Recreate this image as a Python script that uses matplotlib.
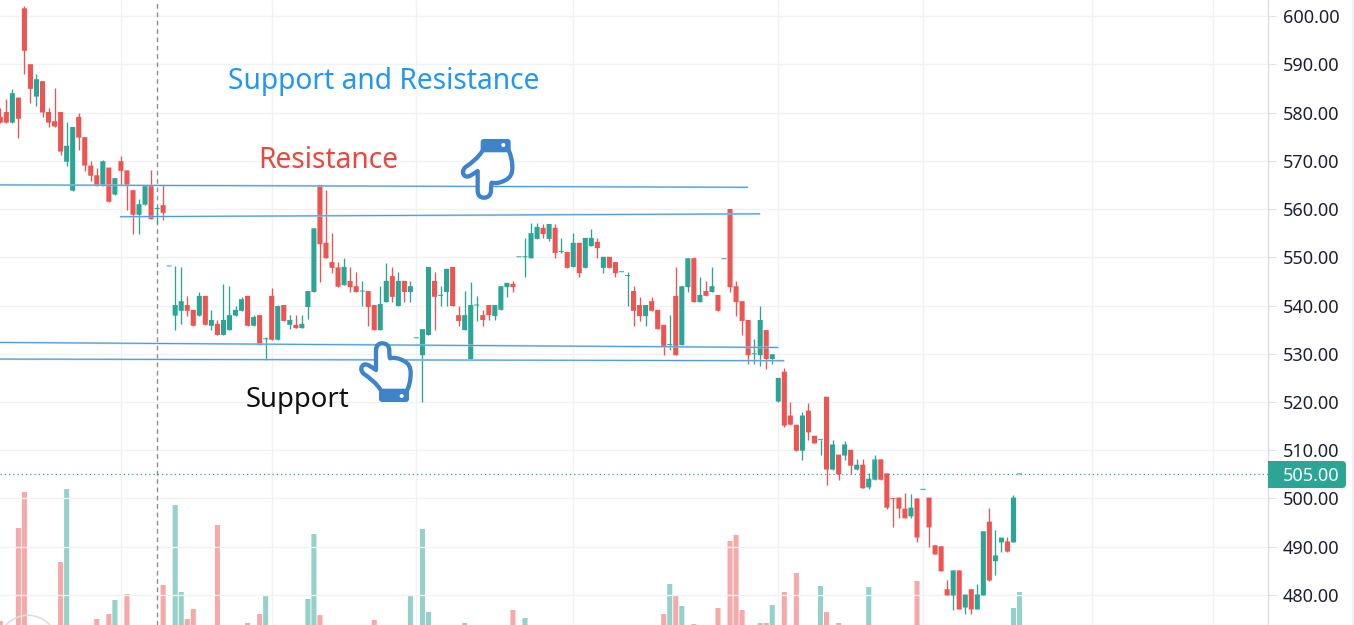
import matplotlib
matplotlib.use("Agg")
import matplotlib.pyplot as plt
import numpy as np
from matplotlib.patches import Circle, FancyBboxPatch, PathPatch, Rectangle
from matplotlib.path import Path

## Daily candles
opens = [
    579.1, 580.1, 577.9, 583.1, 601.6, 590.0, 583.3, 586.5, 580.1, 578.2,
    580.1, 569.8, 563.8, 579.1, 574.9, 569.0, 567.0, 564.8, 568.6, 563.0,
    569.9, 568.0, 563.9, 558.8, 560.9, 564.9, 560.0, 560.8, 548.1, 537.9,
    538.9, 540.1, 539.1, 537.9, 542.0, 535.8, 536.2, 533.9, 534.9, 537.9,
    538.9, 542.0, 535.8, 538.0, 533.0, 542.0, 532.9, 540.1, 536.0, 536.0,
    535.3, 539.7, 542.8, 565.0, 553.0, 549.0, 547.9, 544.2, 545.1, 544.0,
    542.9, 543.0, 540.1, 534.9, 540.7, 546.1, 539.9, 545.1, 542.8, 533.2,
    529.7, 533.9, 545.1, 542.0, 542.8, 548.0, 538.0, 534.9, 528.9, 540.0,
    538.0, 540.1, 537.8, 539.1, 543.8, 544.5, 550.0, 550.0, 549.8, 553.8,
    556.1, 553.8, 556.1, 551.1, 551.1, 548.0, 553.0, 547.8, 552.3, 553.2,
    547.8, 550.1, 549.0, 546.9, 546.1, 543.0, 540.1, 537.8, 540.9, 539.1,
    536.0, 531.8, 542.0, 531.8, 543.8, 549.8, 540.7, 543.0, 542.8, 542.2,
    549.6, 560.0, 544.0, 540.9, 537.0, 529.9, 529.7, 534.9, 528.9, 520.1,
    526.3, 517.2, 515.3, 509.9, 518.2, 513.0, 512.1, 521.1, 506.0, 509.1,
    508.9, 510.1, 506.0, 507.0, 502.3, 503.9, 508.1, 505.2, 500.1, 500.2,
    497.9, 496.3, 500.0, 501.8, 500.2, 490.3, 490.1, 481.2, 479.9, 485.1,
    477.4, 481.2, 477.0, 479.9, 495.2, 487.0, 490.9, 491.1, 490.9, 505.0,
]
closes = [
    577.9, 577.9, 584.0, 578.7, 592.8, 584.9, 586.9, 580.0, 577.9, 577.1,
    571.9, 573.1, 577.0, 574.8, 569.0, 566.9, 564.8, 569.9, 561.5, 566.4,
    567.9, 564.9, 558.8, 561.0, 564.9, 557.9, 560.1, 559.2, 548.1, 540.1,
    540.9, 538.9, 535.8, 542.0, 536.0, 537.0, 533.9, 537.0, 538.0, 539.1,
    541.3, 535.8, 537.6, 531.8, 533.0, 532.9, 539.9, 536.8, 537.0, 535.3,
    536.2, 543.0, 556.0, 552.7, 549.8, 547.8, 543.9, 548.0, 543.8, 542.8,
    543.0, 539.7, 534.9, 540.3, 545.1, 541.8, 545.1, 542.8, 544.0, 533.2,
    535.1, 548.0, 541.8, 542.0, 547.6, 539.9, 536.8, 538.0, 540.1, 540.0,
    537.0, 538.0, 540.1, 544.0, 544.7, 543.8, 550.0, 550.0, 555.0, 556.3,
    554.8, 556.9, 550.9, 551.1, 547.8, 553.0, 546.7, 554.0, 554.0, 551.9,
    550.1, 547.8, 546.7, 546.9, 546.1, 538.9, 537.8, 540.1, 538.9, 535.1,
    531.4, 531.8, 529.7, 544.0, 549.8, 540.7, 542.2, 542.0, 544.0, 538.9,
    549.6, 543.8, 540.7, 536.8, 529.7, 529.9, 537.0, 528.9, 529.9, 525.0,
    515.1, 515.3, 509.9, 517.2, 513.7, 511.4, 512.1, 506.0, 511.2, 505.0,
    511.2, 506.8, 507.0, 502.1, 504.1, 508.1, 503.9, 498.1, 499.9, 497.9,
    495.9, 498.1, 491.9, 501.8, 494.0, 488.4, 484.9, 479.9, 485.1, 477.0,
    480.1, 477.0, 480.1, 493.2, 483.0, 488.2, 491.9, 489.0, 500.2, 505.0,
]
highs = [
    580.9, 582.9, 584.8, 583.1, 602.1, 590.0, 588.0, 586.5, 580.9, 585.0,
    580.1, 578.0, 577.0, 580.0, 574.9, 569.9, 568.6, 570.2, 568.6, 566.4,
    571.0, 568.0, 563.9, 562.0, 564.9, 568.1, 560.7, 564.9, 548.1, 548.1,
    547.9, 542.0, 539.1, 542.9, 542.0, 539.1, 537.0, 544.5, 544.0, 539.9,
    541.8, 542.0, 538.0, 538.0, 533.4, 543.6, 540.1, 540.1, 538.0, 538.0,
    538.0, 543.0, 556.0, 565.0, 563.9, 555.0, 549.0, 549.8, 548.0, 546.9,
    545.1, 543.0, 540.1, 544.0, 548.8, 548.0, 546.9, 545.1, 545.1, 533.2,
    535.1, 548.0, 546.9, 544.0, 547.6, 548.0, 540.0, 543.0, 544.9, 542.0,
    539.1, 540.1, 540.1, 544.0, 544.7, 545.1, 550.0, 554.0, 557.1, 557.1,
    556.9, 556.9, 556.9, 554.0, 551.1, 555.0, 553.0, 554.0, 555.9, 554.0,
    550.1, 550.1, 549.0, 546.9, 546.9, 544.0, 541.8, 540.1, 541.8, 539.1,
    536.0, 538.0, 548.0, 544.0, 549.8, 550.1, 545.9, 545.1, 548.0, 542.2,
    549.6, 560.0, 545.1, 540.9, 537.0, 533.1, 540.0, 534.9, 529.9, 525.0,
    527.1, 520.0, 515.3, 518.0, 519.7, 513.0, 512.2, 521.1, 512.2, 509.1,
    512.0, 510.1, 508.1, 508.1, 505.2, 509.1, 508.1, 505.2, 500.1, 500.2,
    501.2, 501.0, 500.0, 501.8, 500.2, 490.3, 490.1, 483.2, 485.1, 485.1,
    480.1, 481.2, 482.2, 493.2, 498.1, 493.4, 491.9, 492.1, 500.8, 505.0,
]
lows = [
    577.9, 577.9, 577.9, 574.8, 587.9, 581.9, 581.4, 579.0, 576.9, 577.1,
    571.2, 569.0, 563.8, 572.2, 567.9, 565.8, 564.8, 564.8, 561.5, 563.0,
    565.0, 559.8, 554.8, 554.8, 560.9, 557.9, 557.0, 557.7, 548.1, 534.9,
    536.2, 537.9, 535.8, 537.9, 536.0, 534.9, 533.9, 533.9, 534.9, 537.9,
    538.9, 535.8, 535.8, 531.8, 528.8, 532.9, 532.9, 536.8, 535.2, 535.3,
    535.3, 537.2, 542.8, 544.9, 549.8, 546.8, 543.9, 544.2, 542.8, 542.8,
    539.9, 535.8, 534.9, 534.9, 540.7, 540.7, 539.9, 540.7, 540.7, 533.2,
    519.9, 533.9, 534.9, 539.9, 539.9, 539.9, 535.8, 534.9, 528.9, 536.8,
    535.8, 537.0, 537.0, 539.1, 541.8, 542.8, 550.0, 546.0, 549.8, 553.8,
    554.0, 553.4, 549.8, 550.9, 547.8, 548.0, 545.9, 547.8, 552.3, 549.8,
    546.7, 547.8, 545.9, 546.9, 539.9, 535.8, 536.8, 535.8, 538.9, 535.1,
    529.7, 530.8, 529.7, 531.8, 542.8, 540.7, 540.7, 542.0, 542.8, 538.9,
    549.6, 542.8, 537.8, 533.9, 527.9, 527.9, 527.5, 526.8, 527.9, 520.1,
    514.9, 515.3, 509.9, 507.9, 512.2, 511.4, 509.1, 502.9, 506.0, 503.9,
    507.9, 505.0, 506.0, 502.1, 501.9, 503.9, 503.9, 497.9, 494.0, 495.9,
    495.9, 495.9, 490.9, 501.8, 489.9, 488.4, 484.9, 479.9, 476.8, 477.0,
    476.0, 476.0, 477.0, 479.9, 483.0, 484.1, 489.0, 489.0, 490.9, 505.0,
]

## Volume, only the sessions tall enough to show
volume_days = [0, 3, 4, 10, 11, 16, 18, 19, 21, 27, 29, 30, 31, 32, 36, 41, 43, 44,
               51, 52, 53, 62, 68, 70, 71, 77, 85, 87, 110, 111, 112, 113, 115,
               119, 121, 122, 123, 126, 127, 128, 130, 132, 136, 137, 139, 144,
               152, 168, 169]
volume_vals = [4, 97, 133, 63, 136, 6, 11, 25, 31, 40, 120, 33, 6, 16, 100, 2, 11, 29,
               26, 91, 10, 5, 29, 96, 13, 2, 15, 7, 11, 41, 29, 19, 1,
               17, 84, 90, 15, 2, 2, 20, 33, 52, 39, 13, 2, 38,
               44, 17, 33]

## Hand drawn trend lines: (start day, start price, end day, end price)
resistance_lines = [(-1, 565.0, 124, 564.5), (19.85, 558.4, 126, 559.0)]
support_lines = [(-1, 532.35, 129, 531.3), (-1, 528.9, 130, 528.55)]

price_ticks = np.arange(480, 601, 10)
time_grid = [20, 45, 69, 95, 129, 153, 181, 201]
crosshair_day = 26
last_price = 505.0

red = "#ec5552"
green = "#2aa596"
grid_col = "#f1f2f4"
line_col = "#4b97d2"
halo_col = "#a9d2f0"
hand_col = "#3f84c9"

plt.rcParams["font.family"] = ["Noto Sans", "DejaVu Sans"]

opens = np.array(opens)
closes = np.array(closes)
highs = np.array(highs)
lows = np.array(lows)
days = np.arange(len(opens))
up = closes >= opens

fig = plt.figure(figsize=(13.54, 6.25), dpi=100)
rect = [0, 0, 1268 / 1354, 1]

## Volume sits behind the price panel, 1 unit = 1 px of height
ax_vol = fig.add_axes(rect, zorder=1)
cols = [green if up[d] else red for d in volume_days]
ax_vol.bar(volume_days, volume_vals, width=0.84, color=cols, alpha=0.5, linewidth=0, snap=False)
ax_vol.set_ylim(0, 625)
ax_vol.axis("off")

ax = fig.add_axes(rect, zorder=2)
ax.patch.set_alpha(0)
xlim = (-0.05, 210.2)
ax.set_xlim(xlim)
ax_vol.set_xlim(xlim)
ax.set_ylim(473.78, 603.32)

ax.set_axisbelow(True)
ax.set_yticks(price_ticks)
ax.set_yticklabels(["%.2f" % p for p in price_ticks])
ax.set_xticks(time_grid)
ax.set_xticklabels([])
ax.grid(True, color=grid_col, lw=1.0)
ax.yaxis.tick_right()
ax.tick_params(axis="y", length=5.8, width=0.8, color="#e0e3eb", pad=5,
               labelsize=13, labelcolor="#1c2030")
ax.tick_params(axis="x", length=0)
for side in ["top", "bottom", "left"]:
    ax.spines[side].set_visible(False)
ax.spines["right"].set_color("#dcdfe6")
ax.spines["right"].set_linewidth(1.0)

## Crosshair and last price line
ax.axvline(crosshair_day, color="#8b8e98", lw=1.0, ls=(0, (3.4, 2.6)), zorder=1.5)
ax.axhline(last_price, color=green, lw=0.9, ls=(0, (1.0, 2.4)), zorder=1.5)

## Candles
wick_cols = [green if u else red for u in up]
ax.vlines(days, lows, highs, colors=wick_cols, lw=0.95, zorder=3)
body_low = np.minimum(opens, closes)
body_height = np.maximum(np.abs(closes - opens), 0.2)
ax.bar(days, body_height, bottom=body_low, width=0.84, color=wick_cols, linewidth=0,
       zorder=3, snap=False)

## Trend lines, a pale halo under a thin darker stroke
for x0, y0, x1, y1 in resistance_lines + support_lines:
    ax.plot([x0, x1], [y0, y1], color=halo_col, lw=1.5, alpha=0.8, zorder=4, solid_capstyle="butt")
    ax.plot([x0, x1], [y0, y1], color=line_col, lw=0.7, zorder=4.1, solid_capstyle="butt")

## Pixel space overlay for the annotations
ov = fig.add_axes([0, 0, 1, 1], zorder=3)
ov.set_xlim(0, 1354)
ov.set_ylim(625, 0)
ov.axis("off")

ov.text(228, 82, "Support and Resistance", color="#2196f3", fontsize=20.3, va="center")
ov.text(258, 161, "Resistance", color="#e8483f", fontsize=20.3, va="center")
ov.text(246, 399.5, "Support", color="#111111", fontsize=19.8, va="center")

## Last price tag
ov.add_patch(FancyBboxPatch((1272, 465), 70, 19, boxstyle="round,pad=4", fc=green, ec="none"))
ov.add_patch(Rectangle((1268, 461), 10, 27, fc=green, ec="none"))
ov.text(1283, 474.4, "%.2f" % last_price, color="white", fontsize=13, fontweight="semibold",
        va="center_baseline")

## Hand outline, finger pointing up, thumb to the left
hand_verts = np.array([
    (122, 180), (108, 158), (90, 145), (72, 132), (60, 122), (62, 108), (72, 104),
    (82, 100), (95, 112), (108, 120), (108, 100), (108, 80), (108, 62), (108, 46),
    (116, 40), (127, 40), (140, 40), (148, 48), (148, 62), (148, 70), (148, 78),
    (150, 85), (162, 82), (175, 84), (190, 92), (207, 100), (212, 112), (212, 130),
    (212, 150), (208, 165), (202, 180),
], dtype=float) / 3
hand_codes = [Path.MOVETO] + [Path.CURVE4] * 30


def draw_hand(x, y, flip):
    s = -1 if flip else 1
    verts = hand_verts * [1, s] + [x, y]
    ov.add_patch(PathPatch(Path(verts, hand_codes), fc="white", ec=hand_col, lw=3.1,
                           capstyle="round", joinstyle="round"))
    top = y + s * 176 / 3
    bottom = y + s * 216 / 3
    y0 = min(top, bottom)
    ov.add_patch(FancyBboxPatch((x + 117 / 3 + 3, y0 + 3), 90 / 3 - 6, 40 / 3 - 6, boxstyle="round,pad=3",
                                fc=hand_col, ec="none"))
    ov.add_patch(Circle((x + 185 / 3, y + s * 198 / 3), 2.0, fc="white", ec="none"))


draw_hand(340, 330, False)
draw_hand(340 + 305 / 3, 211, True)

## Round logo button peeking in at the bottom left, and the window edge
ov.add_patch(Circle((28, 645), 29.7, fc="none", ec="#dedede", lw=1.2))
ov.plot([1352.5, 1352.5], [0, 625], color="#eef0f4", lw=1.2)

fig.savefig("out.png", dpi=100)
